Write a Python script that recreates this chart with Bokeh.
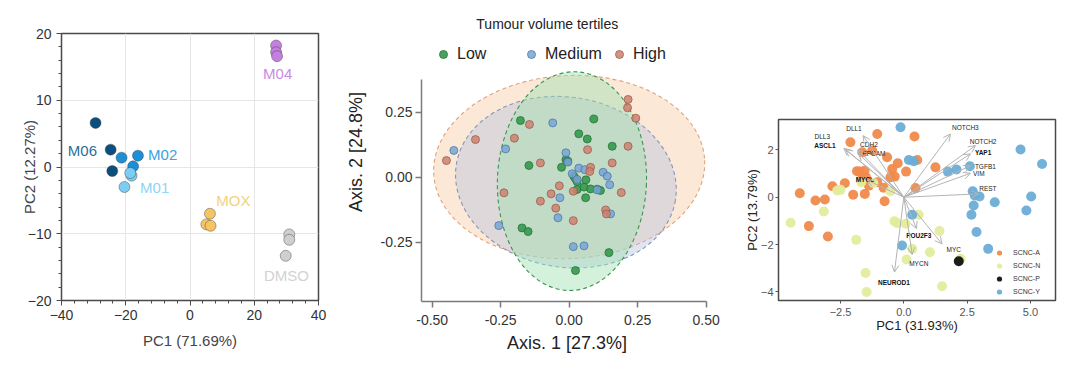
from bokeh.plotting import figure
from bokeh.layouts import row
from bokeh.models import (ColumnDataSource, FixedTicker, Legend, LegendItem, Arrow, Label,
                          OpenHead, Range1d, CustomJSTickFormatter)
from bokeh.embed import file_html
from bokeh.resources import INLINE
from bokeh.core.properties import value

FONT = "Liberation Sans"

# ---------------- Panel 1 data ----------------
p1_groups = ["M06", "M02", "M01", "M04", "MOX", "DMSO"]
p1_colors = ["#0c4f7e", "#1b8fd8", "#7ccdf2", "#c47fe0", "#f5c464", "#cfcfcf"]
p1_text_colors = ["#2a6f9a", "#3aa2de", "#8ed5f3", "#c98be2", "#f2d27e", "#d2d2d2"]
p1_x = [[-29.4, -24.7, -24.2], [-21.3, -16.2, -17.7], [-18.2, -18.6, -20.4],
        [26.8, 26.8, 27.1], [6.2, 5.1, 6.4], [30.9, 30.9, 29.8]]
p1_y = [[6.6, 2.6, -0.6], [1.4, 1.7, 0.1], [-1.3, -0.9, -3.0],
        [18.2, 17.2, 16.6], [-7.0, -8.6, -8.8], [-10.1, -10.9, -13.3]]
p1_label_x = [-33.5, -8.5, -11.0, 27.3, 13.5, 30.0]
p1_label_y = [2.5, 1.8, -3.1, 14.0, -5.0, -16.2]

# ---------------- Panel 2 data ----------------
p2_title = "Tumour volume tertiles"
p2_groups = ["Low", "Medium", "High"]
low_x = [-0.178, 0.090, 0.035, 0.066, 0.157, -0.147, -0.028, -0.012, -0.005, 0.017, 0.023,
         0.029, 0.029, 0.054, 0.061, 0.078, 0.102, 0.114, 0.060, -0.172, -0.150, 0.145, 0.023]
low_y = [0.218, 0.224, 0.167, 0.147, 0.119, 0.045, 0.038, 0.067, 0.062, 0.004, -0.006,
         -0.017, -0.047, -0.038, -0.010, -0.045, -0.046, -0.051, -0.079, -0.195, -0.209, -0.290, -0.359]
med_x = [-0.421, -0.232, -0.060, -0.012, -0.005, 0.011, 0.035, 0.057, 0.124, 0.139, 0.148,
         0.029, 0.102, -0.034, -0.041, -0.257, 0.015, 0.054, 0.151]
med_y = [0.103, 0.109, 0.209, 0.094, 0.058, 0.013, 0.035, 0.029, 0.019, 0.004, -0.029,
         -0.009, -0.049, -0.079, -0.156, -0.186, -0.267, -0.264, -0.141]
high_x = [-0.448, -0.342, -0.200, -0.145, -0.238, -0.105, -0.105, -0.066, -0.036, -0.049, 0.015,
          0.015, 0.067, 0.078, 0.075, 0.157, 0.215, 0.190, 0.133, 0.136, 0.215, 0.213, 0.243]
high_y = [0.064, 0.145, 0.150, 0.203, -0.060, 0.055, -0.092, -0.064, -0.033, -0.119, -0.054,
          -0.167, 0.106, 0.038, 0.022, 0.055, 0.119, -0.059, -0.126, -0.141, 0.299, 0.267, 0.227]
# confidence ellipses: High, Medium, Low
ell_cx = [0.000, -0.012, 0.010]
ell_cy = [0.039, -0.019, -0.015]
ell_w = [0.990, 0.810, 0.544]
ell_h = [0.704, 0.654, 0.842]
ell_angle = [0.05, -0.165, -0.038]

# ---------------- Panel 3 data ----------------
a_x = [-4.11, -3.49, -3.12, -3.75, -3.00, -2.82, -2.33, -2.11, -2.00, -1.74, -1.68, -1.64, -1.55,
       -1.54, -1.38, -1.25, -1.05, -1.05, -0.76, -0.66, -0.46, -0.36, -0.24, 0.09, 0.42, 0.53,
       0.46, 1.25, -1.85, -1.50, -0.53, -0.80]
a_y = [0.17, -0.14, -0.10, -1.22, -1.66, 0.46, 0.59, 2.32, 0.10, 1.08, 0.73, 1.90, 1.12,
       0.14, 0.49, 1.97, 2.67, 0.63, -0.17, 1.69, 1.19, 0.87, 1.43, 1.08, 2.56, 1.57,
       0.39, 1.26, 1.10, 0.85, 0.84, 0.40]
n_x = [-4.47, -3.16, -2.63, -2.50, -1.68, -1.88, -1.51, -1.47, -0.53, -0.37, -0.26, 0.07, 0.59,
       0.33, 0.11, 1.03, 1.41, 1.51, 2.24, -1.20]
n_y = [-1.08, -0.60, 0.28, 0.31, 0.63, -1.80, -3.20, -4.00, 0.25, -1.01, -1.10, -1.12, -0.74,
       -2.18, -2.63, -2.32, -1.43, -3.76, -2.60, 0.60]
p_x = [2.17]
p_y = [-2.70]
y_x = [-0.13, 0.20, 0.39, 1.74, 2.08, 2.61, 2.72, 2.80, 2.99, 2.76, 2.67, 2.87, 3.59, 3.33,
       4.61, 5.46, 5.03, 4.84, 0.33, -0.07]
y_y = [2.95, 1.57, 1.52, 1.08, 1.17, 1.31, 0.25, 0.07, 0.03, -0.35, -0.74, -1.47, -0.21, -2.18,
       2.01, 1.40, 0.03, -0.56, -0.74, -2.04]
p3_subtypes = ["SCNC-A", "SCNC-N", "SCNC-P", "SCNC-Y"]
p3_colors = ["#f08a4b", "#e3ec9c", "#111111", "#6badd6"]
genes = ["DLL3", "ASCL1", "DLL1", "CDH2", "EPCAM", "MYCL", "NOTCH3", "NOTCH2", "YAP1",
         "TGFB1", "VIM", "REST", "POU2F3", "MYC", "MYCN", "NEUROD1"]
gene_bold = [False, True, False, False, False, True, False, False, True,
             False, False, False, True, False, False, True]
load_x = [-2.37, -2.30, -1.61, -1.82, -1.78, -1.45, 1.84, 2.83, 2.63, 2.63, 2.63, 2.96, 0.50, 1.51, 0.33, -0.37]
load_y = [2.06, 2.02, 2.60, 2.00, 1.83, 0.72, 2.67, 2.18, 1.83, 1.33, 1.01, 0.14, -1.33, -1.97, -2.42, -3.16]
gene_lx = [-3.22, -3.12, -1.97, -1.38, -1.18, -1.54, 2.43, 3.13, 3.13, 3.22, 2.96, 3.32, 0.59, 1.97, 0.59, -0.39]
gene_ly = [2.56, 2.18, 2.88, 2.22, 1.85, 0.73, 2.95, 2.36, 1.87, 1.29, 0.98, 0.35, -1.62, -2.22, -2.81, -3.58]

H = 369


def base_fig(w, x_rng, y_rng, bl, br, bt, bb):
    return figure(width=w, height=H, x_range=Range1d(*x_rng), y_range=Range1d(*y_rng),
                  output_backend="svg", toolbar_location=None, frame_align=False,
                  sizing_mode="fixed", title_location=None,
                  min_border_left=bl, min_border_right=br, min_border_top=bt, min_border_bottom=bb)


# ======================= Panel 1 =======================
p1 = base_fig(340, (-40, 40), (-20, 20), 61, 22, 33, 69)
p1.outline_line_color = "#4a4a4a"
p1.outline_line_width = 1.5
p1.xaxis.ticker = FixedTicker(ticks=[-40, -20, 0, 20, 40], minor_ticks=list(range(-40, 41, 4)))
p1.yaxis.ticker = FixedTicker(ticks=[-20, -10, 0, 10, 20], minor_ticks=list(range(-20, 21, 2)))
p1.grid.grid_line_color = "#e6e6e6"
for ax in (p1.xaxis[0], p1.yaxis[0]):
    ax.axis_line_color = None
    ax.major_tick_line_color = "#4a4a4a"
    ax.minor_tick_line_color = "#4a4a4a"
    ax.major_tick_out = 5
    ax.major_tick_in = 0
    ax.minor_tick_out = 3
    ax.minor_tick_in = 0
    ax.major_label_text_font = FONT
    ax.major_label_text_font_size = "14px"
    ax.major_label_text_color = "#333333"
    ax.axis_label_text_font = FONT
    ax.axis_label_text_font_size = "15px"
    ax.axis_label_text_font_style = "normal"
    ax.axis_label_text_color = "#444444"
p1.xaxis.axis_label = "PC1 (71.69%)"
p1.yaxis.axis_label = "PC2 (12.27%)"
p1.xaxis.major_label_standoff = 4
p1.xaxis.axis_label_standoff = 9
p1.yaxis.major_label_standoff = 5
p1.yaxis.axis_label_standoff = -13

for gx, gy, col in zip(p1_x, p1_y, p1_colors):
    p1.scatter(gx, gy, size=11, fill_color=col, line_color="#3a3a3a", line_width=0.6, line_alpha=0.7)
p1.text(x=p1_label_x, y=p1_label_y, text=p1_groups, text_color=p1_text_colors,
        text_font=value(FONT), text_font_size="15px", text_align="center", text_baseline="middle")

# ======================= Panel 2 =======================
p2 = base_fig(395, (-0.539, 0.523), (-0.478, 0.672), 81, 23, 2, 68)
p2.outline_line_color = None
p2.grid.grid_line_color = None
ell_fill = ["#f9c9a0", "#b8c2e0", "#9ee0b0"]
ell_line = ["#e2a27a", "#8298b8", "#3a9552"]
ell_alpha = [0.42, 0.42, 0.45]
p2.ellipse(x=ell_cx, y=ell_cy, width=ell_w, height=ell_h, angle=ell_angle,
           fill_color=ell_fill, fill_alpha=ell_alpha, line_color=ell_line, line_dash="4 3", line_width=1.1)
r_low = p2.scatter(low_x, low_y, size=8, fill_color="#35984d", line_color="#26763a", fill_alpha=0.9, line_width=0.8)
r_med = p2.scatter(med_x, med_y, size=8, fill_color="#78a5d3", line_color="#4f7aa5", fill_alpha=0.85, line_width=0.8)
r_high = p2.scatter(high_x, high_y, size=8, fill_color="#cb8170", line_color="#9e5c4e", fill_alpha=0.85, line_width=0.8)
p2.xaxis.ticker = FixedTicker(ticks=[-0.5, -0.25, 0, 0.25, 0.5])
p2.yaxis.ticker = FixedTicker(ticks=[-0.25, 0, 0.25])
p2.xaxis.formatter = CustomJSTickFormatter(code="return tick.toFixed(2);")
p2.yaxis.formatter = CustomJSTickFormatter(code="return tick.toFixed(2);")
p2.xaxis.bounds = (-0.539, 0.5)
p2.yaxis.bounds = (-0.478, 0.376)
for ax in (p2.xaxis[0], p2.yaxis[0]):
    ax.axis_line_color = "#7a7a7a"
    ax.axis_line_width = 1.5
    ax.major_tick_line_color = "#7a7a7a"
    ax.major_tick_line_width = 1.5
    ax.major_tick_out = 6
    ax.major_tick_in = 0
    ax.minor_tick_line_color = None
    ax.major_label_text_font = FONT
    ax.major_label_text_font_size = "14px"
    ax.major_label_text_color = "#333333"
    ax.axis_label_text_font = FONT
    ax.axis_label_text_font_size = "18px"
    ax.axis_label_text_font_style = "normal"
    ax.axis_label_text_color = "#222222"
p2.xaxis.axis_label = "Axis. 1 [27.3%]"
p2.yaxis.axis_label = "Axis. 2 [24.8%]"
p2.xaxis.major_label_standoff = 7
p2.xaxis.axis_label_standoff = 5
p2.yaxis.major_label_standoff = 3
p2.yaxis.axis_label_standoff = 12

p2.add_layout(Label(x=-0.08, y=0.591, text=p2_title, text_align="center", text_baseline="middle",
                    text_font=FONT, text_font_size="14px", text_color="#222222"))
leg2 = Legend(items=[LegendItem(label=g, renderers=[r]) for g, r in zip(p2_groups, [r_low, r_med, r_high])],
              orientation="horizontal", location=(12, 237),
              label_text_font=FONT, label_text_font_size="16px", label_text_color="#222222",
              glyph_width=20, glyph_height=20, label_height=20, label_width=58, spacing=6,
              label_standoff=4, border_line_color=None, background_fill_alpha=0, padding=2, margin=0)
p2.add_layout(leg2)

# ======================= Panel 3 =======================
p3 = base_fig(337, (-4.95, 5.99), (-4.36, 3.28), 43, 17, 119, 69)
p3.outline_line_color = "#4a4a4a"
p3.outline_line_width = 1.5
p3.grid.grid_line_color = None
rs = []
for sx, sy, col in zip([a_x, n_x, p_x, y_x], [a_y, n_y, p_y, y_y], p3_colors):
    rs.append(p3.scatter(sx, sy, size=10, fill_color=col, line_color=None, fill_alpha=0.95))
arrow_src = ColumnDataSource(dict(x0=[0.0] * len(load_x), y0=[0.0] * len(load_y), x1=load_x, y1=load_y))
p3.add_layout(Arrow(end=OpenHead(size=7, line_color="#b4b4b4", line_width=1.0),
                    x_start="x0", y_start="y0", x_end="x1", y_end="y1", source=arrow_src,
                    line_color="#b4b4b4", line_width=1.0))
norm_idx = [i for i, b in enumerate(gene_bold) if not b]
bold_idx = [i for i, b in enumerate(gene_bold) if b]
p3.text(x=[gene_lx[i] for i in norm_idx], y=[gene_ly[i] for i in norm_idx], text=[genes[i] for i in norm_idx],
        text_font=value(FONT), text_font_size="6.5px", text_color="#222222", text_align="center", text_baseline="middle")
p3.text(x=[gene_lx[i] for i in bold_idx], y=[gene_ly[i] for i in bold_idx], text=[genes[i] for i in bold_idx],
        text_font=value(FONT), text_font_size="6.5px", text_font_style="bold", text_color="#111111",
        text_align="center", text_baseline="middle")
p3.xaxis.ticker = FixedTicker(ticks=[-2.5, 0, 2.5, 5])
p3.yaxis.ticker = FixedTicker(ticks=[-4, -2, 0, 2])
p3.xaxis.formatter = CustomJSTickFormatter(code="return (tick < 0 ? '\u2212' : '') + Math.abs(tick).toFixed(1);")
p3.yaxis.formatter = CustomJSTickFormatter(code="return (tick < 0 ? '\u2212' : '') + Math.abs(tick).toFixed(0);")
for ax in (p3.xaxis[0], p3.yaxis[0]):
    ax.axis_line_color = None
    ax.major_tick_line_color = "#555555"
    ax.major_tick_out = 3
    ax.major_tick_in = 0
    ax.minor_tick_line_color = None
    ax.major_label_text_font = FONT
    ax.major_label_text_font_size = "11px"
    ax.major_label_text_color = "#555555"
    ax.axis_label_text_font = FONT
    ax.axis_label_text_font_size = "13px"
    ax.axis_label_text_font_style = "normal"
    ax.axis_label_text_color = "#222222"
p3.xaxis.axis_label = "PC1 (31.93%)"
p3.yaxis.axis_label = "PC2 (13.79%)"
p3.xaxis.major_label_standoff = 4
p3.xaxis.axis_label_standoff = -1
p3.yaxis.major_label_standoff = 2
p3.yaxis.axis_label_standoff = -2
leg3 = Legend(items=[LegendItem(label=s, renderers=[r]) for s, r in zip(p3_subtypes, rs)],
              location=(214, 2), label_text_font=FONT, label_text_font_size="7px",
              label_text_color="#333333", glyph_width=14, glyph_height=13, label_height=13,
              spacing=0, padding=0, margin=0, label_standoff=7,
              border_line_color=None, background_fill_alpha=0)
p3.add_layout(leg3)

layout = row(p1, p2, p3, sizing_mode="fixed")
open("out.html", "w").write(file_html(layout, INLINE))
